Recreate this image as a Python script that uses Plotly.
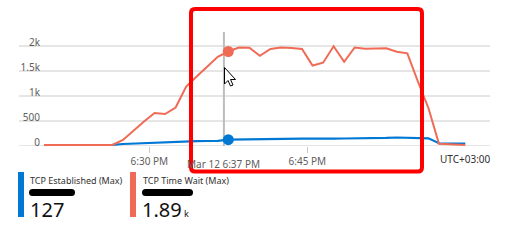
import plotly.graph_objects as go

DAY = "2024-03-12 "
times = ["18:20:00", "18:20:30", "18:21:30", "18:22:30", "18:23:30", "18:24:30",
         "18:25:30", "18:26:30", "18:27:30", "18:28:30", "18:29:30", "18:30:30",
         "18:31:30", "18:32:30", "18:33:30", "18:34:30", "18:35:30", "18:36:30",
         "18:37:30", "18:38:30", "18:39:30", "18:40:30", "18:41:30", "18:42:30",
         "18:43:30", "18:44:30", "18:45:30", "18:46:30", "18:47:30", "18:48:30",
         "18:49:30", "18:50:30", "18:51:30", "18:52:30", "18:53:30", "18:54:30",
         "18:55:30", "18:56:30", "18:57:30", "18:58:30", "18:59:30", "19:00:00"]

tcp_established = [15, 15, 15, 15, 18, 18, 20, 24, 40, 50, 52, 55, 75, 82, 90, 96, 100, 104,
                   127, 132, 136, 140, 145, 146, 148, 148, 146, 140, 148, 150, 150, 152,
                   155, 162, 170, 164, 156, 154, 55, 52, 52, 50]
tcp_time_wait = [20, 20, 20, 20, 20, 20, 20, 22, 120, 314, 490, 660, 640, 770, 1190, 1390,
                 1590, 1785, 1890, 1970, 1965, 1805, 1940, 1970, 1960, 1940, 1610, 1666,
                 1995, 1684, 1970, 1945, 1950, 1954, 1886, 1854, 1290, 760, 46, 36, 28, 22]

series_names = ["TCP Established (Max)", "TCP Time Wait (Max)"]
hover_index = 18
x_tick_vals = ["18:30:00", "18:45:00"]
x_tick_text = ["6:30 PM", "6:45 PM"]
y_tick_vals = [0, 500, 1000, 1500, 2000]
y_tick_text = ["0", "500", "1k", "1.5k", "2k"]
hover_label = "Mar 12 6:37 PM"
tz_label = "UTC+03:00"

BLUE = "#0078d4"
ORANGE = "#ef6b55"
FONT = "Noto Sans"

W, H = 514, 249
ML, MR, MT, MB = 19, 24, 36, 103
PW, PH = W - ML - MR, H - MT - MB


def px(x):
    return (x - ML) / PW


def py(y):
    return 1 - (y - MT) / PH


xs = [DAY + t for t in times]

fig = go.Figure()
fig.add_trace(go.Scatter(x=xs, y=tcp_established, mode="lines",
                         line=dict(color=BLUE, width=2.2), cliponaxis=False))
fig.add_trace(go.Scatter(x=xs, y=tcp_time_wait, mode="lines",
                         line=dict(color=ORANGE, width=2), cliponaxis=False))
fig.add_trace(go.Scatter(x=[xs[hover_index]], y=[tcp_time_wait[hover_index]], mode="markers",
                         marker=dict(color=ORANGE, size=11), cliponaxis=False))
fig.add_trace(go.Scatter(x=[xs[hover_index]], y=[tcp_established[hover_index]], mode="markers",
                         marker=dict(color=BLUE, size=11), cliponaxis=False))

shapes = []
# gridlines across full width
for v in y_tick_vals:
    shapes.append(dict(type="line", xref="paper", yref="y", x0=0, x1=1, y0=v, y1=v,
                       line=dict(color="#cccccc", width=1), layer="below"))
# hover crosshair
shapes.append(dict(type="line", xref="x", yref="paper", x0=DAY + "18:37:05", x1=DAY + "18:37:05",
                   y0=py(146), y1=py(32), line=dict(color="#bdbdbd", width=2), layer="below"))


def path(points, close=True):
    s = "M " + " L ".join(f"{px(a)},{py(b)}" for a, b in points)
    return s + (" Z" if close else "")


# mouse cursor
cursor = [(224.5, 67.5), (224.5, 84), (228, 80.5), (230.5, 86), (233, 85), (230.5, 79.5), (235.5, 79.5)]
shapes.append(dict(type="path", xref="paper", yref="paper", path=path(cursor),
                   fillcolor="white", line=dict(color="black", width=1), layer="above"))


# redaction blobs
def blob(x0, x1, yc, h):
    r = h / 2
    return (f"M {px(x0 + r)},{py(yc - r)} L {px(x1 - r)},{py(yc - r)} "
            f"Q {px(x1)},{py(yc - r)} {px(x1)},{py(yc)} Q {px(x1)},{py(yc + r)} {px(x1 - r)},{py(yc + r)} "
            f"L {px(x0 + r)},{py(yc + r)} Q {px(x0)},{py(yc + r)} {px(x0)},{py(yc)} "
            f"Q {px(x0)},{py(yc - r)} {px(x0 + r)},{py(yc - r)} Z")


shapes.append(dict(type="path", xref="paper", yref="paper", path=blob(29, 75, 192.5, 7),
                   fillcolor="black", line=dict(width=0)))
shapes.append(dict(type="path", xref="paper", yref="paper", path=blob(142, 193, 192.5, 7),
                   fillcolor="black", line=dict(width=0)))

# legend color bars
shapes.append(dict(type="rect", xref="paper", yref="paper", x0=px(18), x1=px(24), y0=py(217), y1=py(172),
                   fillcolor=BLUE, line=dict(width=0)))
shapes.append(dict(type="rect", xref="paper", yref="paper", x0=px(130), x1=px(136), y0=py(217), y1=py(172),
                   fillcolor=ORANGE, line=dict(width=0)))

# red highlight box with rounded corners
x0, y0, x1, y1, r = 191, 9, 422, 171.5, 4
red = (f"M {px(x0 + r)},{py(y0)} L {px(x1 - r)},{py(y0)} Q {px(x1)},{py(y0)} {px(x1)},{py(y0 + r)} "
       f"L {px(x1)},{py(y1 - r)} Q {px(x1)},{py(y1)} {px(x1 - r)},{py(y1)} "
       f"L {px(x0 + r)},{py(y1)} Q {px(x0)},{py(y1)} {px(x0)},{py(y1 - r)} "
       f"L {px(x0)},{py(y0 + r)} Q {px(x0)},{py(y0)} {px(x0 + r)},{py(y0)} Z")
shapes.append(dict(type="path", xref="paper", yref="paper", path=red,
                   line=dict(color="#ff0000", width=4), layer="above"))

annotations = []


def ann(text, x, y, xanchor="left", size=10, color="#323130"):
    annotations.append(dict(text=text, x=px(x), y=py(y), xref="paper", yref="paper",
                            xanchor=xanchor, yanchor="middle", showarrow=False,
                            font=dict(family=FONT, size=size, color=color)))


ann(hover_label, 223, 164, xanchor="center", color="#605e5c")
ann(tz_label, 493, 159, xanchor="right", color="#323130")
ann(series_names[0], 28, 180, size=9)
ann(series_names[1], 140.5, 180, size=9)
ann(f"{tcp_established[hover_index]}", 27.5, 209, size=20, color="#111111")
ann(f"{tcp_time_wait[hover_index] / 1000:.2f}"
    + "<span style='font-size:9px'> k</span>", 140, 209, size=20, color="#111111")

fig.update_layout(
    width=W, height=H, margin=dict(l=ML, r=MR, t=MT, b=MB),
    paper_bgcolor="white", plot_bgcolor="white", showlegend=False,
    shapes=shapes, annotations=annotations,
    xaxis=dict(type="date", domain=[(42 - ML) / PW, 1],
               range=[DAY + "18:19:48.8", DAY + "19:02:20.8"],
               tickvals=[DAY + t for t in x_tick_vals], ticktext=x_tick_text,
               ticks="outside", ticklen=6, tickcolor="#c8c8c8", tickwidth=1,
               showgrid=False, zeroline=False, showline=False,
               tickfont=dict(family=FONT, size=10, color="#605e5c")),
    yaxis=dict(range=[0, 2200], tickvals=y_tick_vals, ticktext=y_tick_text,
               showgrid=False, zeroline=False, showline=False, ticks="",
               ticklabelshift=-4, ticklabelstandoff=1,
               tickfont=dict(family=FONT, size=10, color="#605e5c")),
)

fig.write_html("out.html")
